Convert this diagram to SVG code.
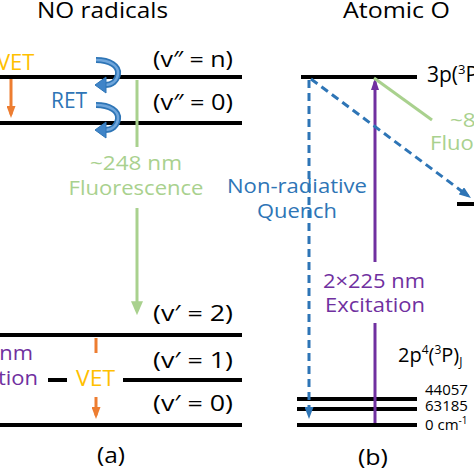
<svg xmlns="http://www.w3.org/2000/svg" width="474" height="474" viewBox="0 0 474 474">
<style>
text{font-family:"Open Sans","Noto Sans","Liberation Sans",sans-serif;}
.k{fill:#000;}
.b{fill:#2E75B6;}
.g{fill:#A9D18E;}
.p{fill:#7030A0;}
.y{fill:#FFC000;}
.lv{stroke:#000;stroke-width:4;fill:none;}
.cb{stroke:#2E75B6;stroke-width:3;fill:none;stroke-dasharray:8 5;}
.cg{stroke:#A9D18E;stroke-width:3;fill:none;}
.cp{stroke:#7030A0;stroke-width:3;fill:none;}
.co{stroke:#ED7D31;stroke-width:3;fill:none;}
</style>
<defs>
<marker id="hb" viewBox="0 0 10 10" refX="7" refY="5" markerWidth="12" markerHeight="9" markerUnits="userSpaceOnUse" orient="auto" preserveAspectRatio="none"><path d="M0,0L10,5L0,10z" fill="#2E75B6"/></marker>
<marker id="hg" viewBox="0 0 10 10" refX="7" refY="5" markerWidth="14" markerHeight="12" markerUnits="userSpaceOnUse" orient="auto" preserveAspectRatio="none"><path d="M0,0L10,5L0,10z" fill="#A9D18E"/></marker>
<marker id="ho" viewBox="0 0 10 10" refX="7" refY="5" markerWidth="12" markerHeight="9" markerUnits="userSpaceOnUse" orient="auto" preserveAspectRatio="none"><path d="M0,0L10,5L0,10z" fill="#ED7D31"/></marker>
<marker id="hp" viewBox="0 0 10 10" refX="7" refY="5" markerWidth="12" markerHeight="8" markerUnits="userSpaceOnUse" orient="auto" preserveAspectRatio="none"><path d="M0,0L10,5L0,10z" fill="#7030A0"/></marker>
<g id="curl">
<path d="M96,60 C110,60 119,66 118,74 C117,81 112,85 105,85" fill="none" stroke="#2E75B6" stroke-width="6"/>
<path d="M96,60 C110,60 119,66 118,74 C117,81 112,85 105,85" fill="none" stroke="#6FA6DC" stroke-width="2.5"/>
<polygon points="95,85 106,77 106,93" fill="#3F84C8" stroke="#2E75B6" stroke-width="1"/>
</g>
</defs>
<rect width="474" height="474" fill="#fff"/>

<g id="titles">
<text x="37" y="18" font-size="21" class="k" textLength="131" lengthAdjust="spacingAndGlyphs">NO radicals</text>
<text x="343" y="18" font-size="21" class="k" textLength="107" lengthAdjust="spacingAndGlyphs">Atomic O</text>
<text x="97" y="463" font-size="21" class="k" textLength="28" lengthAdjust="spacingAndGlyphs">(a)</text>
<text x="358" y="465" font-size="21" class="k" textLength="30" lengthAdjust="spacingAndGlyphs">(b)</text>
</g>

<g id="no-levels">
<path class="lv" d="M0,77H242M0,123H242M0,335H242M123,380H242M48,380H67M0,425H242"/>
<text x="153" y="67" font-size="21" class="k" textLength="80" lengthAdjust="spacingAndGlyphs">(v″ = n)</text>
<text x="153" y="110" font-size="21" class="k" textLength="80" lengthAdjust="spacingAndGlyphs">(v″ = 0)</text>
<text x="153" y="321" font-size="21" class="k" textLength="80" lengthAdjust="spacingAndGlyphs">(v′ = 2)</text>
<text x="153" y="368" font-size="21" class="k" textLength="80" lengthAdjust="spacingAndGlyphs">(v′ = 1)</text>
<text x="153" y="411" font-size="21" class="k" textLength="80" lengthAdjust="spacingAndGlyphs">(v′ = 0)</text>
</g>

<g id="o-levels">
<path class="lv" d="M301,77H417M297,399H417M297,409H417M297,425H417M457,204H474"/>
<text x="427" y="82" font-size="21" class="k">3p(<tspan font-size="13" dy="-8">3</tspan><tspan dy="8">P)</tspan></text>
<text x="398" y="362" font-size="20" class="k">2p<tspan font-size="12" dy="-8">4</tspan><tspan dy="8">(</tspan><tspan font-size="12" dy="-8">3</tspan><tspan dy="8">P)</tspan><tspan font-size="12" dy="4">J</tspan></text>
<text x="425" y="395" font-size="15" class="k">44057</text>
<text x="425" y="411" font-size="15" class="k">63185</text>
<text x="425" y="430" font-size="15" class="k">0 cm<tspan font-size="10" dy="-6">-1</tspan></text>
</g>

<g id="labels">
<text x="-3" y="70" font-size="22" class="y">VET</text>
<text x="51" y="108" font-size="21" class="b" textLength="36" lengthAdjust="spacingAndGlyphs">RET</text>
<text x="136" y="170" font-size="20" class="g" text-anchor="middle" textLength="92" lengthAdjust="spacingAndGlyphs">~248 nm</text>
<text x="136" y="195" font-size="20" class="g" text-anchor="middle" textLength="135" lengthAdjust="spacingAndGlyphs">Fluorescence</text>
<text x="76" y="386" font-size="22" class="y" textLength="39" lengthAdjust="spacingAndGlyphs">VET</text>
<text x="33" y="360" font-size="20" class="p" text-anchor="end" textLength="102" lengthAdjust="spacingAndGlyphs">2×225 nm</text>
<text x="38" y="385" font-size="20" class="p" text-anchor="end" textLength="100" lengthAdjust="spacingAndGlyphs">Excitation</text>
<text x="297" y="193" font-size="20" class="b" text-anchor="middle" textLength="140" lengthAdjust="spacingAndGlyphs">Non-radiative</text>
<text x="297" y="218" font-size="20" class="b" text-anchor="middle" textLength="80" lengthAdjust="spacingAndGlyphs">Quench</text>
<text x="374" y="288" font-size="20" class="p" text-anchor="middle" textLength="102" lengthAdjust="spacingAndGlyphs">2×225 nm</text>
<text x="375" y="312" font-size="20" class="p" text-anchor="middle" textLength="100" lengthAdjust="spacingAndGlyphs">Excitation</text>
<text x="450" y="127" font-size="20" class="g" textLength="92" lengthAdjust="spacingAndGlyphs">~844 nm</text>
<text x="430" y="150" font-size="20" class="g" textLength="135" lengthAdjust="spacingAndGlyphs">Fluorescence</text>
</g>

<g id="connectors">
<path class="co" d="M11,79V114.4" marker-end="url(#ho)"/>
<use href="#curl"/>
<use href="#curl" transform="translate(0,45)"/>
<path class="cg" d="M137,80V147"/>
<path class="cg" d="M137,208V311" marker-end="url(#hg)"/>
<path class="co" d="M96,338V353"/>
<path class="co" d="M96,397V415.4" marker-end="url(#ho)"/>
<path class="cp" d="M375,262V81.6" marker-end="url(#hp)"/>
<path class="cp" d="M375,323V423"/>
<path class="cb" d="M309,80V415.4" marker-end="url(#hb)"/>
<path class="cb" d="M311,79L468.1,195.9" marker-end="url(#hb)"/>
<path class="cg" d="M374,78L432,120"/>
</g>
</svg>
